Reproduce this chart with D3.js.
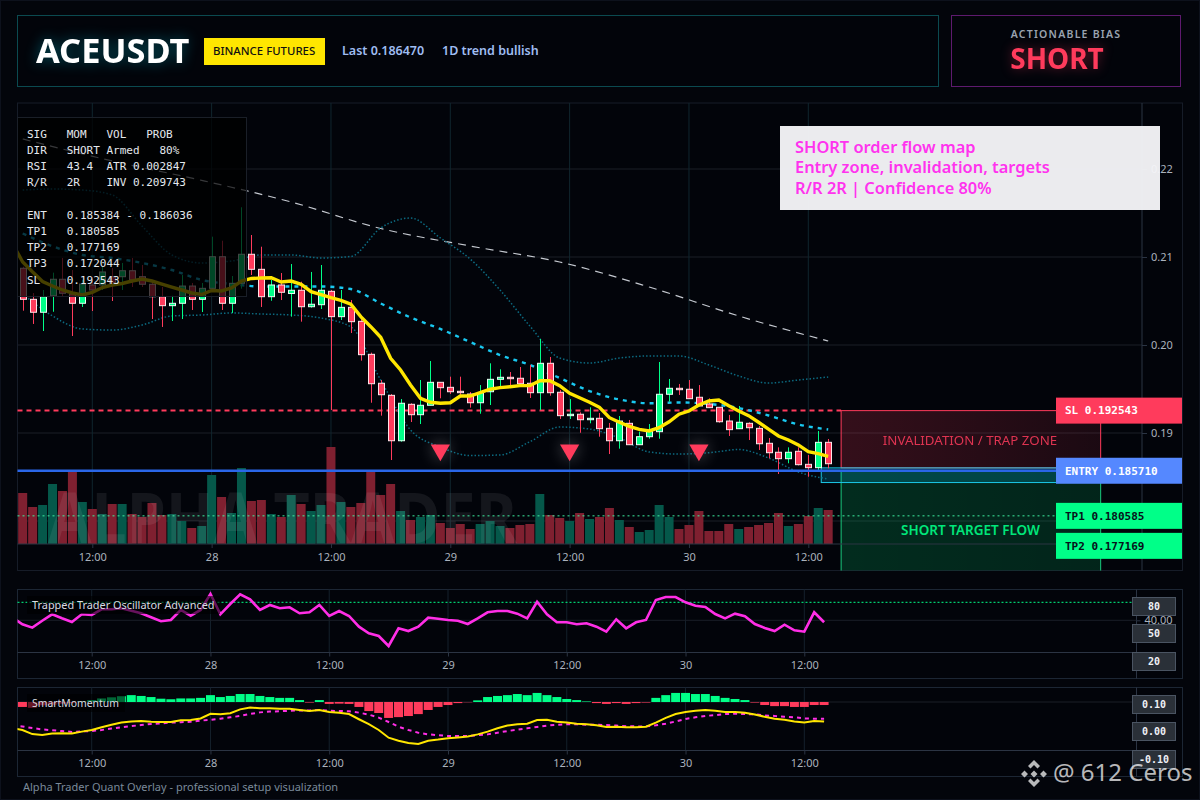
<!DOCTYPE html>
<html>
<head>
<meta charset="utf-8">
<title>ACEUSDT</title>
<script src="https://cdn.jsdelivr.net/npm/d3@7"></script>
<style>
    body { margin: 0; background: #03050b; }
    svg { display: block; }
    text { font-family: "Noto Sans", sans-serif; }
    .mono { font-family: "DejaVu Sans Mono", monospace; white-space: pre; }
    .asse path, .asse line { stroke: #2b3443; }
    .asse text { fill: #aab2bd; font-size: 11px; font-family: "Noto Sans", sans-serif; }
</style>
</head>
<body>
<script>
"use strict" /* values */

const tickIndex = [7, 19, 31, 43, 55, 67, 79];
const tickLabels = ["12:00", "28", "12:00", "29", "12:00", "30", "12:00"];
const priceTicks = [0.18, 0.19, 0.20, 0.21, 0.22];

const opens = [0.20872,0.20519,0.20372,0.20560,0.20747,0.20580,0.20474,0.20682,0.20682,0.20776,0.20776,0.20844,0.20776,0.20690,0.20549,0.20447,0.20474,0.20670,0.20519,0.20644,0.21003,0.20474,0.20701,0.21031,0.20860,0.20549,0.20682,0.20585,0.20622,0.20435,0.20458,0.20610,0.20322,0.20428,0.20269,0.19894,0.19565,0.19428,0.18912,0.19326,0.19208,0.19315,0.19576,0.19519,0.19474,0.19443,0.19344,0.19469,0.19610,0.19633,0.19622,0.19565,0.19458,0.19792,0.19463,0.19197,0.19213,0.19151,0.19167,0.19053,0.18912,0.19110,0.18867,0.18958,0.19015,0.19440,0.19508,0.19497,0.19406,0.19330,0.19292,0.19136,0.19049,0.19110,0.19053,0.18883,0.18781,0.18708,0.18792,0.18644,0.18606,0.18894];
const highs = [0.20890,0.20591,0.20625,0.20822,0.20989,0.20852,0.20739,0.20773,0.20898,0.20875,0.20932,0.20989,0.20909,0.20705,0.20659,0.20560,0.20795,0.20705,0.20705,0.21231,0.21185,0.20784,0.21565,0.21250,0.21117,0.20739,0.20818,0.20920,0.20719,0.20830,0.20909,0.20625,0.20625,0.20511,0.20307,0.19913,0.19602,0.19443,0.19386,0.19338,0.19602,0.19818,0.19576,0.19640,0.19640,0.19466,0.19545,0.19792,0.19724,0.19693,0.19750,0.19773,0.20068,0.19864,0.19489,0.19386,0.19235,0.19292,0.19227,0.19114,0.19193,0.19148,0.19015,0.19102,0.19807,0.19614,0.19557,0.19602,0.19545,0.19394,0.19292,0.19205,0.19307,0.19122,0.19080,0.18943,0.18837,0.18837,0.18837,0.18750,0.19023,0.18932];
const lows = [0.20390,0.20239,0.20159,0.20378,0.20557,0.20102,0.20432,0.20386,0.20625,0.20500,0.20625,0.20659,0.20659,0.20295,0.20205,0.20273,0.20295,0.20398,0.20375,0.20625,0.20398,0.20364,0.20640,0.20795,0.20432,0.20503,0.20511,0.20322,0.20265,0.20424,0.20409,0.19261,0.20284,0.20136,0.19822,0.19344,0.19197,0.18693,0.18901,0.19125,0.19102,0.19315,0.19394,0.19443,0.19413,0.19288,0.19219,0.19318,0.19534,0.19534,0.19560,0.19398,0.19261,0.19424,0.19159,0.19159,0.19003,0.19110,0.18958,0.18761,0.18822,0.18864,0.18864,0.18935,0.18935,0.19356,0.19432,0.19390,0.19307,0.19288,0.19117,0.18966,0.19049,0.18920,0.18807,0.18712,0.18534,0.18656,0.18631,0.18503,0.18560,0.18599];
const closes = [0.20519,0.20372,0.20549,0.20747,0.20588,0.20474,0.20693,0.20625,0.20830,0.20682,0.20844,0.20739,0.20690,0.20549,0.20447,0.20474,0.20670,0.20519,0.20644,0.21003,0.20474,0.20701,0.21031,0.20860,0.20549,0.20682,0.20599,0.20622,0.20435,0.20463,0.20622,0.20322,0.20428,0.20265,0.19890,0.19560,0.19435,0.18912,0.19338,0.19208,0.19315,0.19576,0.19515,0.19469,0.19458,0.19344,0.19458,0.19610,0.19633,0.19617,0.19560,0.19458,0.19792,0.19458,0.19197,0.19213,0.19151,0.19167,0.19049,0.18912,0.19136,0.18867,0.18958,0.19023,0.19440,0.19508,0.19492,0.19390,0.19307,0.19288,0.19128,0.19038,0.19122,0.19060,0.18878,0.18776,0.18708,0.18781,0.18640,0.18606,0.18894,0.18651];
const volumes = [51,37,39,60,53,74,42,35,30,40,40,30,27,41,29,30,23,16,18,69,47,31,76,43,44,30,27,49,40,33,39,97,42,37,41,74,49,60,33,24,27,29,21,16,20,15,20,23,18,16,19,20,50,29,26,23,31,25,27,36,24,17,12,14,39,27,15,19,33,13,13,20,15,17,19,21,31,18,20,28,36,34];

/* fast average, first value is the candle before the visible range */
const fastAverage = [0.21148,0.20943,0.20830,0.20722,0.20670,0.20625,0.20591,0.20568,0.20597,0.20653,0.20682,0.20699,0.20727,0.20750,0.20727,0.20693,0.20659,0.20625,0.20591,0.20574,0.20619,0.20614,0.20648,0.20727,0.20756,0.20761,0.20765,0.20716,0.20727,0.20690,0.20606,0.20572,0.20538,0.20508,0.20463,0.20322,0.20208,0.20088,0.19849,0.19716,0.19545,0.19394,0.19349,0.19338,0.19344,0.19420,0.19420,0.19458,0.19497,0.19515,0.19526,0.19538,0.19538,0.19594,0.19594,0.19538,0.19451,0.19401,0.19349,0.19292,0.19174,0.19122,0.19076,0.19042,0.19023,0.19060,0.19128,0.19213,0.19250,0.19318,0.19364,0.19375,0.19310,0.19250,0.19197,0.19122,0.19045,0.18966,0.18920,0.18864,0.18787,0.18765,0.18735];

/* bands are read every third candle */
const bandIndex = [0,3,6,9,12,15,18,21,24,27,30,33,36,39,42,45,48,51,54,57,60,63,66,69,72,75,78,81];
const bandMiddle = [0.21267,0.21122,0.21023,0.20989,0.20932,0.20852,0.20739,0.20693,0.20665,0.20665,0.20665,0.20636,0.20472,0.20313,0.20182,0.20034,0.19886,0.19773,0.19625,0.19477,0.19381,0.19338,0.19347,0.19330,0.19284,0.19199,0.19097,0.19040];
const bandUpper = [0.21761,0.21773,0.21761,0.21705,0.21352,0.21023,0.20932,0.20955,0.21023,0.21023,0.20989,0.21006,0.21330,0.21443,0.21216,0.20977,0.20625,0.20216,0.19852,0.19795,0.19852,0.19875,0.19875,0.19773,0.19648,0.19568,0.19602,0.19636];
const bandLower = [0.20580,0.20330,0.20182,0.20170,0.20227,0.20330,0.20341,0.20364,0.20352,0.20341,0.20307,0.20205,0.19602,0.19034,0.18841,0.18744,0.18750,0.18901,0.19068,0.19045,0.18943,0.18784,0.18761,0.18776,0.18812,0.18716,0.18557,0.18477];

/* slow trend line */
const trendIndex = [0,9,18,27,36,45,54,63,72,81];
const trendValues = [0.22341,0.22091,0.21871,0.21625,0.21324,0.21125,0.20943,0.20659,0.20330,0.20045];

const signalIndex = [42, 55, 68];
const signalPrice = 0.18805;

const levelNames = ["SL", "ENTRY", "TP1", "TP2"];
const levelValues = [0.192543, 0.185710, 0.180585, 0.177169];
const entryTop = 0.186036;
const entryBottom = 0.18437;
const lastTarget = 0.172044;

const oscillator = [46,31.1,23.6,39.1,53.3,44.4,36.2,53.3,51.8,64.4,64.4,66.7,61.3,55.6,46.7,37.8,40.7,62.9,50.2,62.9,98.4,53.3,76.2,97.8,86.7,62.9,74,66.7,68.9,55.6,57.8,74,49.6,60.7,49.6,25.8,11.1,5.1,-17.1,22.2,16.2,25.8,45.8,43.6,40.7,39.1,31.8,44.4,57.8,60.7,60.7,54.7,44.4,81.3,53.3,35.6,35.6,31.1,33.3,25.8,14.7,42.2,22.2,35.6,40.7,85.1,91.8,91.8,80,72.4,69.6,54,44.4,54.7,48.9,31.8,22.9,16.2,30.2,17.8,14.7,57.8,35.6];
const oscillatorPills = ["80", "50", "20"];

const momentumHist = [-0.018,-0.021,-0.012,-0.010,-0.006,-0.004,0.002,0.007,0.013,0.017,0.021,0.025,0.022,0.018,0.012,0.010,0.013,0.013,0.015,0.025,0.018,0.022,0.029,0.029,0.022,0.018,0.015,0.015,0.007,-0.002,0.007,-0.007,-0.006,-0.007,-0.018,-0.033,-0.040,-0.058,-0.055,-0.051,-0.044,-0.029,-0.018,-0.011,-0.004,-0.001,0.006,0.018,0.022,0.025,0.029,0.025,0.033,0.025,0.018,0.011,0.007,0.002,-0.004,-0.007,-0.004,-0.007,-0.004,-0.002,0.015,0.025,0.033,0.033,0.029,0.029,0.022,0.015,0.011,0.007,-0.002,-0.011,-0.015,-0.015,-0.018,-0.018,-0.011,-0.011];
const momentumFast = [-0.002,-0.009,-0.024,-0.027,-0.022,-0.021,-0.022,-0.015,-0.009,0.001,0.010,0.018,0.022,0.024,0.021,0.020,0.020,0.026,0.027,0.033,0.050,0.048,0.052,0.066,0.073,0.070,0.070,0.068,0.068,0.064,0.060,0.064,0.056,0.054,0.049,0.030,0.012,-0.009,-0.037,-0.048,-0.056,-0.060,-0.048,-0.044,-0.039,-0.036,-0.033,-0.025,-0.015,-0.003,0.007,0.012,0.014,0.027,0.028,0.021,0.018,0.014,0.012,0.008,0.002,0.003,0.001,0.001,0.003,0.018,0.035,0.049,0.056,0.061,0.064,0.061,0.056,0.056,0.054,0.047,0.039,0.032,0.028,0.022,0.018,0.024,0.022];
const momentumSlow = [0.007,0.004,-0.002,-0.007,-0.010,-0.013,-0.016,-0.014,-0.013,-0.009,-0.004,0.001,0.005,0.009,0.013,0.015,0.018,0.019,0.021,0.025,0.028,0.032,0.037,0.042,0.049,0.055,0.058,0.059,0.061,0.062,0.062,0.064,0.061,0.060,0.059,0.054,0.047,0.036,0.020,0.003,-0.009,-0.019,-0.025,-0.028,-0.031,-0.031,-0.031,-0.028,-0.025,-0.019,-0.013,-0.008,-0.003,0.002,0.007,0.010,0.012,0.012,0.010,0.010,0.009,0.007,0.005,0.004,0.004,0.008,0.014,0.022,0.031,0.037,0.042,0.045,0.049,0.050,0.049,0.048,0.044,0.042,0.039,0.037,0.033,0.032,0.032];
const momentumPills = ["0.10", "0.00", "-0.10"];

const tableRows = [
    "SIG   MOM   VOL   PROB",
    "DIR   SHORT Armed   80%",
    "RSI   43.4  ATR 0.002847",
    "R/R   2R    INV 0.209743",
    "",
    "ENT   0.185384 - 0.186036",
    "TP1   0.180585",
    "TP2   0.177169",
    "TP3   0.172044",
    "SL    0.192543"
];
const noteRows = [
    "SHORT order flow map",
    "Entry zone, invalidation, targets",
    "R/R 2R | Confidence 80%"
];

const red = "#ff3b5c";
const green = "#00ff88";

/* page layout */
const pannello = { sinistra: 17.5, destra: 1182.5, alto: 103, basso: 570.5, asseY: 1142, tempoY: 544 };
const osc = { alto: 589.5, basso: 678.5, tempoY: 652.5, asseY: 1136.5 };
const mom = { alto: 687.5, basso: 776.5, tempoY: 750.5, asseY: 1136.5 };

const svg = d3.select("body").append("svg").attr("width", 1200).attr("height", 800);
const defs = svg.append("defs");

/* scales: the hourly candles are on a slightly wider step in the main panel */
const xMain = d3.scaleLinear().domain([7, 79]).range([92.3, 808.3]);
const xSub = d3.scaleLinear().domain([7, 79]).range([91.7, 804.3]);
const yPrice = d3.scaleLinear().domain([0.19, 0.20]).range([433, 345]);
const yVolume = d3.scaleLinear().domain([0, 100]).range([pannello.tempoY, pannello.tempoY - 100]);
const yOsc = d3.scaleLinear().domain([40, 80]).range([620.3, 602.3]);
const yHist = d3.scaleLinear().domain([0, 0.1]).range([702, 674.5]);
const yMom = d3.scaleLinear().domain([0, 0.1]).range([727.5, 700]);

function rettangolo(id, x, y, w, h) {
    defs.append("clipPath").attr("id", id).append("rect")
        .attr("x", x).attr("y", y).attr("width", w).attr("height", h);
}
rettangolo("clipMain", pannello.sinistra, pannello.alto, pannello.destra - pannello.sinistra, pannello.basso - pannello.alto);
rettangolo("clipPlot", pannello.sinistra, pannello.alto, pannello.asseY - pannello.sinistra, pannello.tempoY - pannello.alto);
rettangolo("clipVol", pannello.sinistra, pannello.tempoY - 110, 1100, 110);
rettangolo("clipOsc", pannello.sinistra, osc.alto, osc.asseY - pannello.sinistra, osc.tempoY - osc.alto);
rettangolo("clipMom", pannello.sinistra, mom.alto, mom.asseY - pannello.sinistra, mom.tempoY - mom.alto);

function gradiente(id, colore, a1, a2) {
    const g = defs.append("linearGradient").attr("id", id);
    g.append("stop").attr("offset", "0%").attr("stop-color", colore).attr("stop-opacity", a1);
    g.append("stop").attr("offset", "100%").attr("stop-color", colore).attr("stop-opacity", a2);
}
gradiente("gradRed", red, 0.2, 0.1);
gradiente("gradGreen", green, 0.16, 0.13);

function scatola(x, y, w, h, bordo, fondo) {
    return svg.append("rect").attr("x", x).attr("y", y).attr("width", w).attr("height", h)
        .attr("stroke", bordo).attr("fill", fondo || "#02040a");
}
function scritta(gruppo, x, y, testo, size, colore) {
    return gruppo.append("text").attr("x", x).attr("y", y).attr("dy", "0.35em")
        .attr("font-size", size).attr("fill", colore).text(testo);
}

/* header */
svg.append("rect").attr("x", 0.5).attr("y", 0.5).attr("width", 1199).attr("height", 799)
    .attr("fill", "none").attr("stroke", "#0d111c");
scatola(17.5, 15.5, 921, 71, "#0b4a50");
scatola(951.5, 15.5, 229, 71, "#5e1a6e");
scritta(svg, 36, 51, "ACEUSDT", 34.4, "#ffffff").attr("font-weight", 700)
    .style("filter", "drop-shadow(0 0 7px rgba(0,230,255,.35))");
svg.append("rect").attr("x", 204).attr("y", 38).attr("width", 121).attr("height", 27).attr("fill", "#ffe600");
scritta(svg, 213, 51.5, "BINANCE FUTURES", 11.4, "#111111").attr("font-weight", 500);
scritta(svg, 342, 51, "Last 0.186470", 12.5, "#9fbdf2").attr("font-weight", 600);
scritta(svg, 442, 51, "1D trend bullish", 12.5, "#9fbdf2").attr("font-weight", 600);
scritta(svg, 1066, 34, "ACTIONABLE BIAS", 10.5, "#9aa3b0").attr("text-anchor", "middle")
    .attr("letter-spacing", 1.25).attr("font-weight", 600);
scritta(svg, 1057, 59, "SHORT", 28, red).attr("text-anchor", "middle").attr("font-weight", 700)
    .style("filter", "drop-shadow(0 0 6px rgba(255,59,92,.4))");

/* main panel frame and grid */
scatola(pannello.sinistra, pannello.alto, pannello.destra - pannello.sinistra, pannello.basso - pannello.alto, "#161c28");
const griglia = svg.append("g").attr("clip-path", "url(#clipPlot)");
griglia.selectAll("line.o").data(priceTicks).enter().append("line").attr("class", "o")
    .attr("x1", pannello.sinistra).attr("x2", pannello.asseY)
    .attr("y1", function (d) { return yPrice(d) })
    .attr("y2", function (d) { return yPrice(d) })
    .attr("stroke", "#1a1f27");
griglia.selectAll("line.v").data(tickIndex).enter().append("line").attr("class", "v")
    .attr("x1", function (d) { return xMain(d) })
    .attr("x2", function (d) { return xMain(d) })
    .attr("y1", pannello.alto).attr("y2", pannello.tempoY)
    .attr("stroke", "#10262e");

/* volume under the candles */
const barreVolume = svg.append("g").attr("clip-path", "url(#clipVol)");
barreVolume.selectAll("rect").data(volumes).enter().append("rect")
    .attr("x", function (d, i) { return xMain(i) - 4.5 })
    .attr("y", function (d) { return yVolume(d) })
    .attr("width", 9)
    .attr("height", function (d) { return yVolume(0) - yVolume(d) })
    .attr("fill", function (d, i) { return closes[i] >= opens[i] ? "#05584a" : "#7f2030" });
svg.append("g").attr("clip-path", "url(#clipVol)").append("text")
    .attr("x", 48).attr("y", 543).attr("font-size", 70).attr("font-weight", 700)
    .attr("textLength", 469).attr("lengthAdjust", "spacingAndGlyphs")
    .attr("fill", "rgba(255,255,255,0.075)").text("ALPHA TRADER");

/* zones and levels */
const zone = svg.append("g").attr("clip-path", "url(#clipMain)");
const zonaX1 = xMain(82.3), zonaX2 = xMain(108.4);
zone.append("rect").attr("x", zonaX1).attr("width", zonaX2 - zonaX1)
    .attr("y", yPrice(levelValues[0])).attr("height", yPrice(entryTop) - yPrice(levelValues[0]))
    .attr("fill", "url(#gradRed)").attr("stroke", red);
zone.append("rect").attr("x", zonaX1).attr("width", zonaX2 - zonaX1)
    .attr("y", yPrice(levelValues[1])).attr("height", yPrice(lastTarget) - yPrice(levelValues[1]))
    .attr("fill", "url(#gradGreen)").attr("stroke", "#19c97d");
zone.append("rect").attr("x", xMain(80.3)).attr("width", zonaX2 - xMain(80.3))
    .attr("y", yPrice(entryTop)).attr("height", yPrice(entryBottom) - yPrice(entryTop))
    .attr("fill", "rgba(0,190,240,0.2)").attr("stroke", "#1cc8e8");
scritta(zone, 970, 440, "INVALIDATION / TRAP ZONE", 13.3, red).attr("text-anchor", "middle").attr("opacity", 0.85);
scritta(zone, 970.5, 530, "SHORT TARGET FLOW", 13.5, "#00e67a").attr("text-anchor", "middle").attr("font-weight", 600);

svg.append("line").attr("x1", pannello.sinistra).attr("x2", zonaX1)
    .attr("y1", yPrice(levelValues[0])).attr("y2", yPrice(levelValues[0]))
    .attr("stroke", red).attr("stroke-width", 2).attr("stroke-dasharray", "5 4");

/* overlay lines */
const linee = svg.append("g").attr("clip-path", "url(#clipPlot)");
function lineaSparsa(indici) {
    return d3.line()
        .x(function (d, i) { return xMain(indici[i]) })
        .y(function (d) { return yPrice(d) })
        .curve(d3.curveMonotoneX);
}
function disegna(valori, indici, colore, spessore, tratteggio) {
    linee.append("path").datum(valori).attr("d", lineaSparsa(indici))
        .attr("fill", "none").attr("stroke", colore).attr("stroke-width", spessore)
        .attr("stroke-dasharray", tratteggio);
}
disegna(trendValues, trendIndex, "#c5c9d0", 1.2, "8 6");
disegna(bandUpper, bandIndex, "#0c6a80", 1.5, "1.5 2");
disegna(bandLower, bandIndex, "#0c6a80", 1.5, "1.5 2");
disegna(bandMiddle, bandIndex, "#19c8f0", 2.4, "4 5");

/* candles */
const candele = linee.selectAll("g.candela").data(opens).enter().append("g").attr("class", "candela");
candele.append("line")
    .attr("x1", function (d, i) { return Math.round(xMain(i)) + 0.5 })
    .attr("x2", function (d, i) { return Math.round(xMain(i)) + 0.5 })
    .attr("y1", function (d, i) { return yPrice(highs[i]) })
    .attr("y2", function (d, i) { return yPrice(lows[i]) })
    .attr("stroke", function (d, i) { return closes[i] >= opens[i] ? green : red });
candele.append("rect")
    .attr("x", function (d, i) { return Math.round(xMain(i)) - 2.5 })
    .attr("width", 6)
    .attr("y", function (d, i) { return yPrice(Math.max(opens[i], closes[i])) })
    .attr("height", function (d, i) { return Math.max(1, Math.abs(yPrice(opens[i]) - yPrice(closes[i]))) })
    .attr("fill", function (d, i) { return closes[i] >= opens[i] ? green : red })
    .attr("stroke", function (d, i) { return closes[i] >= opens[i] ? "#e9fff4" : "#ffe3e8" });

/* fast average: first value sits one candle left of the plot */
linee.append("path").datum(fastAverage)
    .attr("d", d3.line()
        .x(function (d, i) { return xMain(i - 1) })
        .y(function (d) { return yPrice(d) }))
    .attr("fill", "none").attr("stroke", "#ffe600").attr("stroke-width", 3.4);

/* signals */
svg.selectAll("path.segnale").data(signalIndex).enter().append("path").attr("class", "segnale")
    .attr("d", d3.symbol().type(d3.symbolTriangle).size(160))
    .attr("transform", function (d) { return `translate(${xMain(d)},${yPrice(signalPrice)}) rotate(180)` })
    .attr("fill", red)
    .style("filter", "drop-shadow(0 0 8px rgba(255,255,255,.35))");

/* entry and target lines over the candles */
svg.append("line").attr("x1", pannello.sinistra).attr("x2", 1056)
    .attr("y1", yPrice(levelValues[1])).attr("y2", yPrice(levelValues[1]))
    .attr("stroke", "#2a66e8").attr("stroke-width", 2.4);
svg.append("line").attr("x1", pannello.sinistra).attr("x2", 1056)
    .attr("y1", yPrice(levelValues[2])).attr("y2", yPrice(levelValues[2]))
    .attr("stroke", "#3df0a0").attr("stroke-dasharray", "2 3");

/* main axes */
const asseTempo = d3.axisBottom(xMain).tickValues(tickIndex)
    .tickFormat(function (d, i) { return tickLabels[i] }).tickSize(4).tickPadding(5);
svg.append("g").attr("class", "asse")
    .attr("transform", `translate(0,${pannello.tempoY})`).call(asseTempo)
    .select(".domain").attr("d", `M${pannello.sinistra},0H${pannello.asseY}`);
const assePrezzo = d3.axisRight(yPrice).tickValues(priceTicks).tickFormat(d3.format(".2f")).tickSize(5).tickPadding(4);
svg.append("g").attr("class", "asse")
    .attr("transform", `translate(${pannello.asseY},0)`).call(assePrezzo)
    .select(".domain").attr("d", `M0,${pannello.alto}V${pannello.basso}`);

/* level labels */
const etichette = svg.selectAll("g.livello").data(levelNames).enter().append("g").attr("class", "livello")
    .attr("transform", function (d, i) {
        /* the last two target labels are pushed apart so they do not touch */
        const y = i == 3 ? yPrice(levelValues[2]) + 30 : yPrice(levelValues[i]);
        return `translate(1056,${y})`
    });
etichette.append("rect").attr("y", -13).attr("width", 126).attr("height", 26)
    .attr("fill", function (d, i) { return [red, "#5588ff", green, green][i] });
etichette.append("text").attr("class", "mono").attr("x", 9).attr("dy", "0.35em")
    .attr("font-size", 11).attr("font-weight", 700)
    .attr("fill", function (d, i) { return i < 2 ? "#ffffff" : "#06121a" })
    .text(function (d, i) { return `${d} ${levelValues[i].toFixed(6)}` });

/* summary table */
svg.append("rect").attr("x", pannello.sinistra).attr("y", 117.5).attr("width", 229).attr("height", 179)
    .attr("fill", "rgba(0,0,0,0.72)").attr("stroke", "#1a1f28");
svg.selectAll("text.riga").data(tableRows).enter().append("text").attr("class", "riga mono")
    .attr("x", 27).attr("y", function (d, i) { return 134 + i * 16.2 }).attr("dy", "0.35em")
    .attr("font-size", 11).attr("fill", "#e4e8ee").text(function (d) { return d });

/* note box */
svg.append("rect").attr("x", 780).attr("y", 126).attr("width", 380).attr("height", 84)
    .attr("fill", "rgba(245,245,248,0.96)");
svg.selectAll("text.nota").data(noteRows).enter().append("text").attr("class", "nota")
    .attr("x", 795).attr("y", function (d, i) { return 147 + i * 20.5 }).attr("dy", "0.35em")
    .attr("font-size", 16.4).attr("font-weight", 600).attr("fill", "#ff33ee").text(function (d) { return d });

/* sub panels */
function pannelloBasso(p) {
    scatola(pannello.sinistra, p.alto, pannello.destra - pannello.sinistra, p.basso - p.alto, "#1c2634");
    svg.append("g").selectAll("line").data(tickIndex).enter().append("line")
        .attr("x1", function (d) { return xSub(d) })
        .attr("x2", function (d) { return xSub(d) })
        .attr("y1", p.alto).attr("y2", p.tempoY)
        .attr("stroke", "#14212c");
    const asse = d3.axisBottom(xSub).tickValues(tickIndex)
        .tickFormat(function (d, i) { return tickLabels[i] }).tickSize(4).tickPadding(5);
    svg.append("g").attr("class", "asse").attr("transform", `translate(0,${p.tempoY})`).call(asse)
        .select(".domain").attr("d", `M${pannello.sinistra},0H${p.asseY}`);
    svg.append("line").attr("x1", p.asseY).attr("x2", p.asseY).attr("y1", p.alto).attr("y2", p.basso).attr("stroke", "#2b3443");
}
function pillole(testi, alti) {
    const g = svg.selectAll(null).data(testi).enter().append("g")
        .attr("transform", function (d, i) { return `translate(1132.5,${alti[i]})` });
    g.append("rect").attr("width", 43).attr("height", 18).attr("fill", "#2a3038").attr("stroke", "#4a5462");
    g.append("text").attr("class", "mono").attr("x", 21.5).attr("y", 9).attr("dy", "0.35em")
        .attr("text-anchor", "middle").attr("font-size", 10).attr("font-weight", 700)
        .attr("fill", "#eef1f5").text(function (d) { return d });
}
function targhetta(x, y, larghezza, testo, size) {
    svg.append("rect").attr("x", x).attr("y", y).attr("width", larghezza).attr("height", 18).attr("fill", "rgba(0,0,0,0.6)");
    scritta(svg, x + 5, y + 9, testo, size, "#d8dce2");
}

/* oscillator */
pannelloBasso(osc);
svg.append("line").attr("x1", pannello.sinistra).attr("x2", osc.asseY)
    .attr("y1", yOsc(40)).attr("y2", yOsc(40)).attr("stroke", "#1a1f27");
svg.append("g").attr("class", "asse").attr("transform", `translate(${osc.asseY},0)`)
    .call(d3.axisRight(yOsc).tickValues([40]).tickFormat(d3.format(".2f")).tickSize(4).tickPadding(4))
    .select(".domain").remove();
svg.append("line").attr("x1", pannello.sinistra).attr("x2", 1132)
    .attr("y1", yOsc(80)).attr("y2", yOsc(80)).attr("stroke", green).attr("stroke-dasharray", "2 2");
svg.append("g").attr("clip-path", "url(#clipOsc)").append("path").datum(oscillator)
    .attr("d", d3.line()
        .x(function (d, i) { return xSub(i - 1) })
        .y(function (d) { return yOsc(d) }))
    .attr("fill", "none").attr("stroke", "#ff2ee6").attr("stroke-width", 2.6);
targhetta(27, 596, 193, "Trapped Trader Oscillator Advanced", 10.9);
pillole(oscillatorPills, [597.5, 624.5, 652.5]);

/* momentum */
pannelloBasso(mom);
svg.append("line").attr("x1", pannello.sinistra).attr("x2", mom.asseY)
    .attr("y1", yHist(0)).attr("y2", yHist(0)).attr("stroke", "#1a1f27");
const gruppoMom = svg.append("g").attr("clip-path", "url(#clipMom)");
gruppoMom.selectAll("rect").data(momentumHist).enter().append("rect")
    .attr("x", function (d, i) { return xSub(i) - 4.5 })
    .attr("width", 9)
    .attr("y", function (d) { return Math.min(yHist(d), yHist(0)) })
    .attr("height", function (d) { return Math.abs(yHist(d) - yHist(0)) })
    .attr("fill", function (d) { return d >= 0 ? green : red });
const lineaMom = d3.line()
    .x(function (d, i) { return xSub(i - 1) })
    .y(function (d) { return yMom(d) });
gruppoMom.append("path").datum(momentumSlow).attr("d", lineaMom)
    .attr("fill", "none").attr("stroke", "#ff2ee6").attr("stroke-width", 2).attr("stroke-dasharray", "4 4");
gruppoMom.append("path").datum(momentumFast).attr("d", lineaMom)
    .attr("fill", "none").attr("stroke", "#ffe600").attr("stroke-width", 2);
targhetta(27, 694, 98, "SmartMomentum", 10.4);
pillole(momentumPills, [695.5, 722.5, 750.5]);

/* footer */
scritta(svg, 23, 787, "Alpha Trader Quant Overlay - professional setup visualization", 11, "#7a8a9a");
const logo = svg.append("g").attr("transform", "translate(1034,774)").attr("fill", "rgba(255,255,255,0.72)");
logo.append("path").attr("d", "M0,-14L6,-8L3.5,-5.5L0,-9L-3.5,-5.5L-6,-8Z M0,13L6,7L3.5,4.5L0,8L-3.5,4.5L-6,7Z M-13,0L-9.5,-3.5L-6,0L-9.5,3.5Z M13,0L9.5,-3.5L6,0L9.5,3.5Z M0,-3.5L3.5,0L0,3.5L-3.5,0Z");
scritta(svg, 1053, 773, "@ 612 Ceros", 24, "rgba(255,255,255,0.72)");
</script>
</body>
</html>
